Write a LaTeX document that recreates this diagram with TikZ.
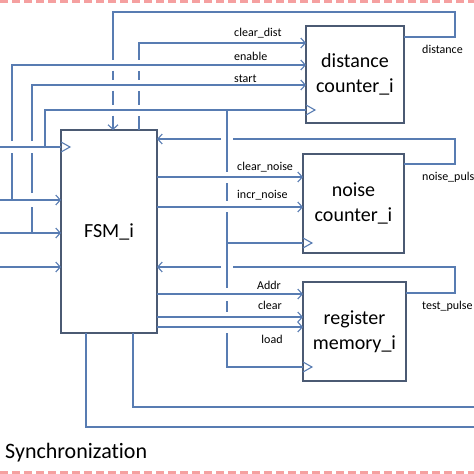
\documentclass[tikz,border=0pt]{standalone}
\usepackage{fontspec}
\setmainfont{Carlito}[Ligatures=NoCommon]
\usetikzlibrary{arrows.meta,calc}
\definecolor{wirec}{RGB}{88,124,178}
\definecolor{boxc}{RGB}{75,90,115}
\definecolor{dashc}{RGB}{245,160,160}
\newcommand\clockmark[1]{\draw[wire] ($(#1)+(0,-5)$) -- ++(9,5) -- ++(-9,5);}
\begin{document}
\begin{tikzpicture}[x=1pt,y=-1pt,
  wire/.style={draw=wirec,line width=1.1pt},
  arr/.style={wire,-{Straight Barb[length=4.5pt,width=10pt]}},
  box/.style={draw=boxc,line width=1.3pt,inner sep=0pt,outer sep=0pt,align=center,
    font=\fontsize{20}{25}\selectfont,anchor=north west},
  lbl/.style={font=\fontsize{12}{14}\selectfont,text=black,inner sep=0pt,anchor=base west},
  clbl/.style={lbl,anchor=base},
  dashline/.style={draw=dashc,line width=3pt,dash pattern=on 8pt off 4pt}]
\useasboundingbox (0,0) rectangle (474,474);

% boxes
\node[box,minimum width=96pt,minimum height=203pt] (fsm) at (61,130) {FSM\_i};
\node[box,minimum width=98pt,minimum height=97pt] (dist) at (306,26) {distance\\counter\_i};
\node[box,minimum width=101pt,minimum height=99pt] (noise) at (303,154) {noise\\counter\_i};
\node[box,minimum width=103pt,minimum height=99pt] (reg) at (303,282) {register\\memory\_i};

% pink dashed borders
\coordinate (dtl) at (0,1.5); \coordinate (dtr) at (474,1.5);
\coordinate (dbl) at (0,472.5); \coordinate (dbr) at (474,472.5);
\draw[dashline] (dtl) -- (dtr);
\draw[dashline] (dbl) -- (dbr);

% left inputs
\coordinate (c0) at (0,147);
\coordinate (i1) at (0,200);
\coordinate (i2) at (0,233);
\coordinate (i3) at (0,267);
\coordinate (kf) at (c0 -| fsm.west);
\draw[wire] (c0) -- (kf);
\clockmark{kf}
\draw[arr] (i1) -- (i1 -| fsm.west);
\draw[arr] (i2) -- (i2 -| fsm.west);
\draw[arr] (i3) -- (i3 -| fsm.west);

% enable branch
\coordinate (b1) at (12,200); \coordinate (en) at (12,65);
\draw[wire] (b1) -- (12,153);
\draw[arr] (12,141) -- (en) -- (en -| dist.west);

% start branch
\coordinate (b2) at (32,233); \coordinate (st) at (32,85);
\draw[wire] (b2) -- (32,207);
\draw[wire] (32,193) -- (32,153);
\draw[arr] (32,141) -- (st) -- (st -| dist.west);

% clock branch to distance counter
\coordinate (b3) at (45,147); \coordinate (ck) at (45,110);
\coordinate (kd) at (ck -| dist.west);
\draw[wire] (b3) -- (ck) -- (kd);
\clockmark{kd}

% clock distribution to noise and register
\coordinate (kv) at (227,110);
\coordinate (kn) at (227,243);
\coordinate (kr) at (227,367);
\coordinate (kno) at (kn -| noise.west);
\coordinate (kre) at (kr -| reg.west);
\draw[wire] (kv) -- (227,172);
\draw[wire] (227,183) -- (227,201);
\draw[wire] (227,212) -- (227,288);
\draw[wire] (227,301) -- (227,312);
\draw[wire] (227,333) -- (kr) -- (kre);
\draw[wire] (kn) -- (kno);
\clockmark{kno}
\clockmark{kre}

% distance output back to FSM
\coordinate (d1) at (455,37); \coordinate (d2) at (455,12); \coordinate (d3) at (113,12);
\draw[wire] (d1 -| dist.east) -- (d1) -- (d2) -- (d3) -- (113,59.5);
\draw[wire] (113,70.5) -- (113,79.5);
\draw[wire] (113,90.5) -- (113,104.5);
\draw[arr] (113,115.5) -- (d3 |- fsm.north);

% clear_dist from FSM
\coordinate (cd) at (139,43);
\draw[wire] (cd |- fsm.north) -- (139,115.5);
\draw[wire] (139,104.5) -- (139,90.5);
\draw[wire] (139,79.5) -- (139,70.5);
\draw[arr] (139,59.5) -- (cd) -- (cd -| dist.west);

% noise_pulse back to FSM
\coordinate (n1) at (455,164); \coordinate (n2) at (455,139);
\draw[wire] (n1 -| noise.east) -- (n1) -- (n2) -- (233,139);
\draw[arr] (221,139) -- (n2 -| fsm.east);

% FSM outputs to noise counter and register memory
\coordinate (cn) at (200,177);
\coordinate (in) at (200,207);
\coordinate (ad) at (200,294);
\coordinate (cl) at (200,317);
\coordinate (ld) at (200,327);
\draw[arr] (cn -| fsm.east) -- (cn -| noise.west);
\draw[arr] (in -| fsm.east) -- (in -| noise.west);
\draw[arr] (ad -| fsm.east) -- (ad -| reg.west);
\draw[arr] (cl -| fsm.east) -- (cl -| reg.west);
\draw[arr] (ld -| fsm.east) -- (ld -| reg.west);

% test_pulse back to FSM
\coordinate (t1) at (455,293); \coordinate (t2) at (455,267);
\draw[wire] (t1 -| reg.east) -- (t1) -- (t2) -- (233,267);
\draw[arr] (221,267) -- (t2 -| fsm.east);

% outputs at the bottom
\coordinate (s1) at (86,427); \coordinate (s1e) at (474,427);
\coordinate (s2) at (133,407); \coordinate (s2e) at (474,407);
\draw[wire] (s1 |- fsm.south) -- (s1) -- (s1e);
\draw[wire] (s2 |- fsm.south) -- (s2) -- (s2e);

% labels
\node[lbl] (lcd) at (234,36) {clear\_dist};
\node[lbl] (len) at (234,60) {enable};
\node[lbl] (lst) at (234,82) {start};
\node[lbl] (lcn) at (237,170) {clear\_noise};
\node[lbl] (lin) at (237,198) {incr\_noise};
\node[clbl] (lad) at (269,289) {Addr};
\node[clbl] (lcl) at (270,309) {clear};
\node[clbl] (lld) at (272,343) {load};
\node[lbl] (ldi) at (422,53) {distance};
\node[lbl] (lnp) at (422,180) {noise\_pulse};
\node[lbl] (ltp) at (422,309) {test\_pulse};
\node[lbl,font=\fontsize{22}{26}\selectfont] (lsy) at (5,458) {Synchronization};
\end{tikzpicture}
\end{document}
